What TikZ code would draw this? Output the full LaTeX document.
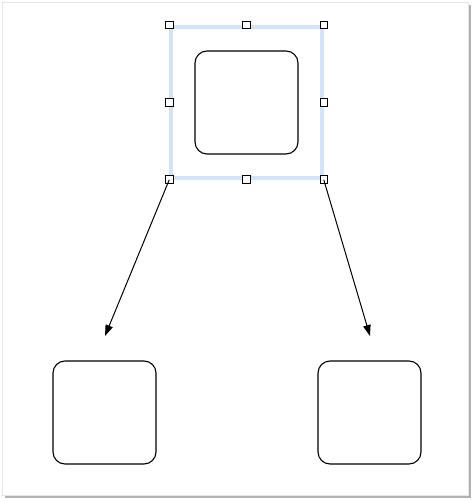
\documentclass[tikz,border=0pt]{standalone}
\usepackage{tikz}
\usetikzlibrary{positioning, arrows.meta, calc}

\definecolor{selblue}{RGB}{212,228,248}

\begin{document}
\begin{tikzpicture}[
    x=1pt, y=-1pt,
    % --- STYLES ---
    shape box/.style={
            draw=black,
            fill=white,
            rounded corners=12pt,
            line width=1.1pt,
            minimum width=103pt,
            minimum height=103pt,
            inner sep=0pt
        },
    selection/.style={
            draw=selblue,
            line width=3.5pt,
            minimum width=151pt,
            minimum height=151pt,
            inner sep=0pt
        },
    handle/.style={
            draw=black,
            fill=white,
            line width=1pt,
            minimum size=7.5pt,
            inner sep=0pt
        },
    link/.style={
    -{Triangle[length=11pt,width=7.5pt]},
    line width=1pt,
    color=black
    }
    ]

    \useasboundingbox (0,0) rectangle (474,502);

    % --- PAGE ---
    \fill[black!30] (5,5) rectangle (471,498);
    \filldraw[fill=white, draw=black!10] (2,2) rectangle (468,495);

    % --- SELECTED SHAPE ---
    \node[selection] (sel) at (246.5,102.5) {};
    \node[shape box] (top) at (sel.center) {};
    \foreach \a in {north west, north, north east, west, east, south west, south, south east}
        \node[handle] at (sel.\a) {};

    % --- CHILDREN ---
    \node[shape box] (left) at (104.5,412.5) {};
    \node[shape box] (right) at (369.5,412.5) {};

    \coordinate (leftend) at (105,336);
    \coordinate (rightend) at (370,336);

    % --- LINKS ---
    \draw[link] (sel.south west) -- (leftend);
    \draw[link] (sel.south east) -- (rightend);

\end{tikzpicture}
\end{document}
